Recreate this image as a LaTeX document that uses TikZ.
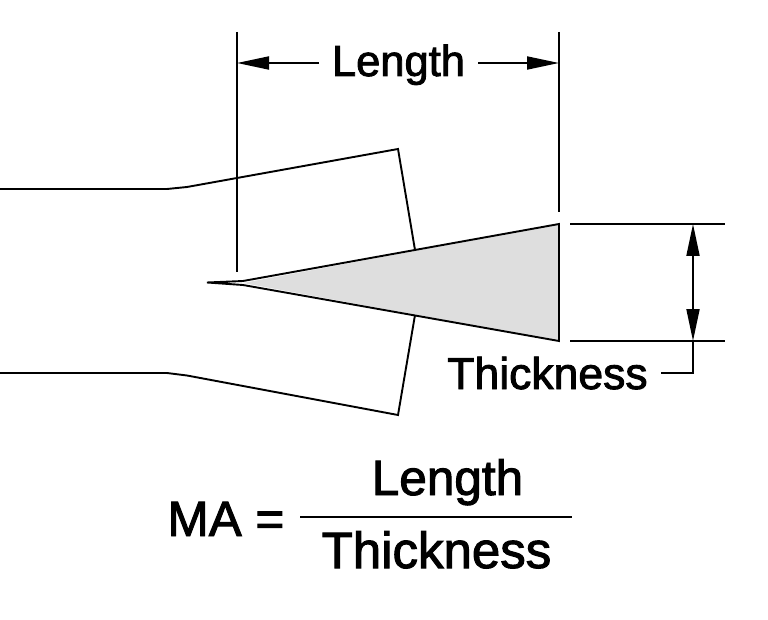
\documentclass[tikz,border=0pt]{standalone}
\usepackage{fontspec}
\setmainfont{Liberation Sans}[FakeBold=2]
\usetikzlibrary{arrows.meta}
\tikzset{
    part/.style={line width=1.9pt, line join=miter},
    dimline/.style={line width=1.9pt},
    dimarrow/.style={line width=1.9pt, -{Triangle[length=32pt,width=13pt]}},
    dimtext/.style={font=\fontsize{43.5}{43.5}\selectfont, inner sep=0pt, anchor=base},
    fractext/.style={font=\fontsize{49.5}{49.5}\selectfont, inner sep=0pt, anchor=base},
}
\begin{document}
\begin{tikzpicture}[x=1pt,y=-1pt]

    \useasboundingbox (0,0) rectangle (768,620);

    % the wedge
    \coordinate (tip) at (207,282.5);
    \coordinate (topright) at (559,224);
    \coordinate (botright) at (559,341);
    \fill [black!13] (243,283) -- (topright) -- (botright) -- cycle;
    \draw [part] (tip) -- (243,281) -- (topright) -- (botright) -- (243,285) -- cycle;
    \draw [line width=1.9pt] (212,283) -- (228,283);

    % the split piece
    \coordinate (uppercut) at (415,250);
    \coordinate (lowercut) at (415,315);
    \draw [part] (0,189) -- (167,189) -- (187,187) -- (398,149) -- (uppercut);
    \draw [part] (0,373) -- (167,373) -- (187,375.5) -- (398,415) -- (lowercut);

    % length
    \coordinate (lengthleft) at (237,63);
    \coordinate (lengthright) at (559,63);
    \draw [dimline] (237,32) -- (237,272);
    \draw [dimline] (559,32) -- (559,212);
    \node [dimtext] (lengthlabel) at (398.5,76) {Length};
    \draw [dimarrow] (319,63) -- (lengthleft);
    \draw [dimarrow] (478,63) -- (lengthright);

    % thickness
    \coordinate (thicktop) at (693,224);
    \coordinate (thickbot) at (693,341);
    \draw [dimline] (570,224) -- (725,224);
    \draw [dimline] (570,341) -- (725,341);
    \draw [dimarrow] (693,283) -- (thicktop);
    \draw [dimarrow] (693,283) -- (thickbot);
    \node [dimtext, font=\fontsize{44.5}{44.5}\selectfont] (thicklabel) at (547.5,389) {Thickness};
    \draw [dimline] (thickbot) -- (693,373) -- (661,373);

    % the formula
    \node [fractext] (ma) at (226,536) {MA =};
    \node [fractext] (fractop) at (447.5,495) {Length};
    \node [fractext, font=\fontsize{51}{51}\selectfont] (fracbot) at (436.5,568) {Thickness};
    \draw [dimline] (300,517) -- (572,517);

\end{tikzpicture}
\end{document}
